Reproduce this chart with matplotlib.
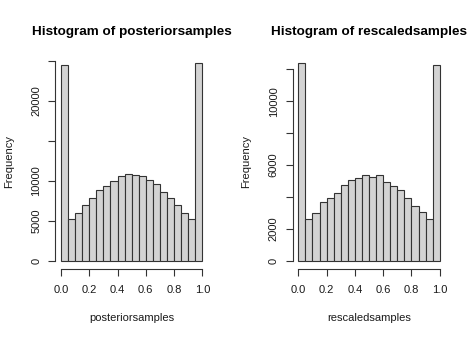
import numpy as np
import matplotlib
matplotlib.use("Agg")
import matplotlib.pyplot as plt

plt.rcParams['font.family'] = ['Liberation Sans', 'DejaVu Sans']

# 20 equal-width bins on [0, 1]
bin_edges = np.linspace(0.0, 1.0, 21)

posterior_counts = [24500, 5210, 5920, 6920, 7790, 8790, 9330, 10000, 10580, 10830,
                    10750, 10620, 10120, 9580, 8620, 7830, 6920, 6000, 5250, 24670]
rescaled_counts = [12375, 2625, 3020, 3650, 3960, 4250, 4750, 5060, 5210, 5400,
                   5270, 5400, 4960, 4710, 4420, 3960, 3460, 3040, 2600, 12290]

x_ticks = [0.0, 0.2, 0.4, 0.6, 0.8, 1.0]
x_tick_labels = ["0.0", "0.2", "0.4", "0.6", "0.8", "1.0"]

posterior_y_ticks = [0, 5000, 10000, 15000, 20000, 25000]
posterior_y_labels = ["0", "5000", "10000", "", "20000", ""]
rescaled_y_ticks = [0, 2000, 4000, 6000, 8000, 10000, 12000]
rescaled_y_labels = ["0", "2000", "", "6000", "", "10000", ""]

panels = [
    ("posteriorsamples", posterior_counts, posterior_y_ticks, posterior_y_labels),
    ("rescaledsamples", rescaled_counts, rescaled_y_ticks, rescaled_y_labels),
]

W, H = 474, 338
fig = plt.figure(figsize=(W / 100, H / 100), dpi=100)

lefts_px = [55.3, 292.7]
top_px, bottom_px = 55.4, 268.6
width_px = 152.7
text_color = '#1a1a1a'

for left_px, (name, counts, yticks, ylabels) in zip(lefts_px, panels):
    ax = fig.add_axes([left_px / W, (H - bottom_px) / H, width_px / W, (bottom_px - top_px) / H])
    widths = np.diff(bin_edges)
    ax.bar(bin_edges[:-1], counts, width=widths, align='edge',
           color='#d3d3d3', edgecolor='#333333', linewidth=0.8)
    ymax = max(counts)
    ax.set_xlim(-0.04, 1.04)
    ax.set_ylim(-0.04 * ymax, 1.04 * ymax)

    for s in ['top', 'right']:
        ax.spines[s].set_visible(False)
    ax.spines['left'].set_bounds(yticks[0], yticks[-1])
    ax.spines['bottom'].set_bounds(x_ticks[0], x_ticks[-1])
    for s in ['left', 'bottom']:
        ax.spines[s].set_color('#333333')
        ax.spines[s].set_linewidth(0.8)

    ax.set_xticks(x_ticks)
    ax.set_xticklabels(x_tick_labels)
    ax.set_yticks(yticks)
    ax.set_yticklabels(ylabels, rotation=90, va='center')
    ax.tick_params(axis='both', length=5.2, width=0.8, color='#333333',
                   labelsize=8.0, labelcolor=text_color)
    ax.tick_params(axis='x', pad=6.8)
    ax.tick_params(axis='y', pad=4.8)

    ax.set_title(f"Histogram of {name}", fontsize=9.7, fontweight='bold', pad=15)
    ax.set_xlabel(name, fontsize=8.0, labelpad=12.5, color=text_color)
    ax.set_ylabel("Frequency", fontsize=8.0, labelpad=12.5, color=text_color)

fig.savefig("out.png", dpi=100)
